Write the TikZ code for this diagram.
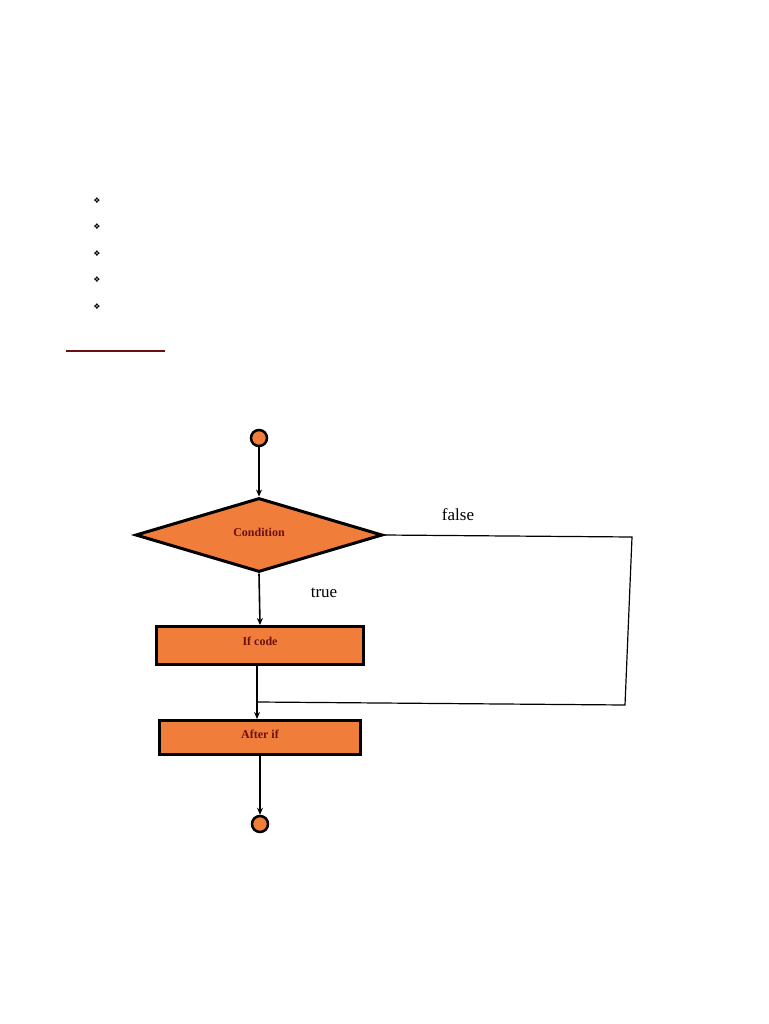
\documentclass[tikz,border=0pt]{standalone}
\usepackage{fontspec}
\setmainfont{Liberation Serif}
\newfontfamily\symfont{DejaVu Sans}
\usetikzlibrary{shapes.geometric,arrows.meta}
\definecolor{orng}{HTML}{F07E3A}
\definecolor{txtred}{HTML}{6B1010}
\begin{document}
\begin{tikzpicture}[x=1pt,y=-1pt,
  blk/.style={draw=black,line width=3pt,fill=orng,font=\bfseries\fontsize{12}{14}\selectfont,text=txtred},
  term/.style={circle,draw=black,line width=2.5pt,fill=orng,minimum size=16pt,inner sep=0pt},
  arr/.style={line width=1.6pt,-{Stealth[length=7pt,width=6pt]}},
  ln/.style={line width=1.2pt},
  bul/.style={font=\symfont\fontsize{8}{8}\selectfont}]
\useasboundingbox[fill=white] (0,0) rectangle (768,1024);
\foreach \y [count=\i] in {201,227,254,280,307} \node[bul] (b\i) at (97,\y) {❖};
\draw[txtred,line width=1.2pt] (66,351) coordinate (u1) -- (165,351) coordinate (u2);
\node[term] (start) at (259,438) {};
\node[blk,diamond,aspect=3.3,minimum width=247pt,minimum height=74pt,inner sep=0pt] (cond) at (259,535) {\raisebox{6pt}{Condition}};
\node[blk,rectangle,minimum width=207pt,minimum height=38pt,anchor=north west,inner sep=0pt] (ifc) at (155,625) {\raisebox{8pt}{If code}};
\node[blk,rectangle,minimum width=201pt,minimum height=34pt,anchor=north west,inner sep=0pt] (aft) at (158,719) {\raisebox{6pt}{After if}};
\node[term] (stop) at (260,824) {};
\node[font=\fontsize{17}{20}\selectfont] (lf) at (458,515) {false};
\node[font=\fontsize{17}{20}\selectfont] (lt) at (324,593) {true};
\coordinate (c1) at (632,537);
\coordinate (c2) at (625,705);
\coordinate (c3) at (258,702);
\draw[arr] (start) -- (cond.north);
\draw[arr] (cond.south) -- (ifc.north);
\draw[arr] (ifc.south -| 257,0) -- (aft.north -| 257,0);
\draw[arr] (aft) -- (stop);
\draw[ln] (cond.east) -- (c1) -- (c2) -- (c3);
\end{tikzpicture}
\end{document}
